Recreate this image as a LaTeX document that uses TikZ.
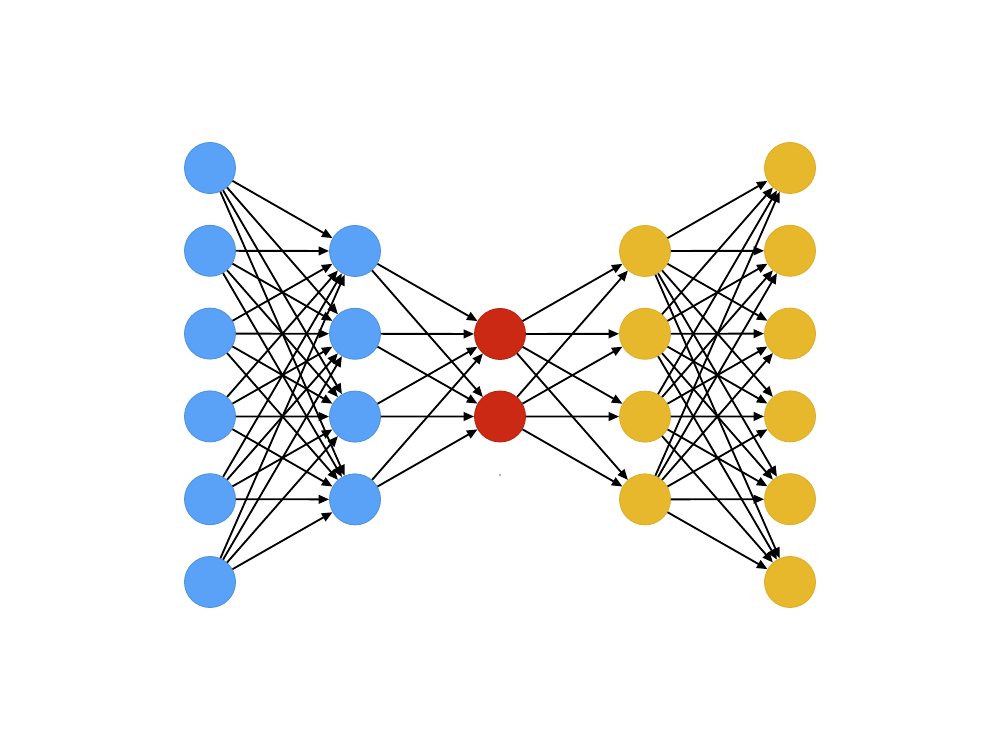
\documentclass[tikz,border=0pt]{standalone}
\usetikzlibrary{arrows.meta}

\definecolor{unitblue}{HTML}{5AA2F8}
\definecolor{unitred}{HTML}{CB2914}
\definecolor{unityellow}{HTML}{E8B82C}

\tikzset{
	unit/.style={circle, minimum size=1.02cm, inner sep=0pt, line width=0.5pt},
	enc/.style={unit, fill=unitblue, draw=unitblue!90!black},
	code/.style={unit, fill=unitred, draw=unitred!90!black},
	dec/.style={unit, fill=unityellow, draw=unityellow!95!black},
	link/.style={line width=1.05pt, -{Triangle[length=6pt,width=5pt]}}
}

\begin{document}
\begin{tikzpicture}
	\useasboundingbox (0, 0) rectangle (20, 15.02);
	% input and output layers
	\foreach \i [evaluate=\i as \y using 11.66-(\i-1)*1.656] in {1,...,6} {
		\node[enc] (a\i) at (4.2, \y) {};
		\node[dec] (e\i) at (15.8, \y) {};
	}
	% hidden layers
	\foreach \i [evaluate=\i as \y using 10.0-(\i-1)*1.656] in {1,...,4} {
		\node[enc] (b\i) at (7.1, \y) {};
		\node[dec] (d\i) at (12.9, \y) {};
	}
	% code layer
	\node[code] (c1) at (10, 8.34) {};
	\node[code] (c2) at (10, 6.69) {};
	\fill[black!60] (10, 5.52) circle (0.5pt);
		\foreach \i in {1,...,6} \foreach \j in {1,...,4} {
			\draw[link] (a\i) -- (b\j);
			\draw[link] (d\j) -- (e\i);
		}
		\foreach \j in {1,...,4} \foreach \k in {1,2} {
			\draw[link] (b\j) -- (c\k);
			\draw[link] (c\k) -- (d\j);
		}
\end{tikzpicture}
\end{document}
